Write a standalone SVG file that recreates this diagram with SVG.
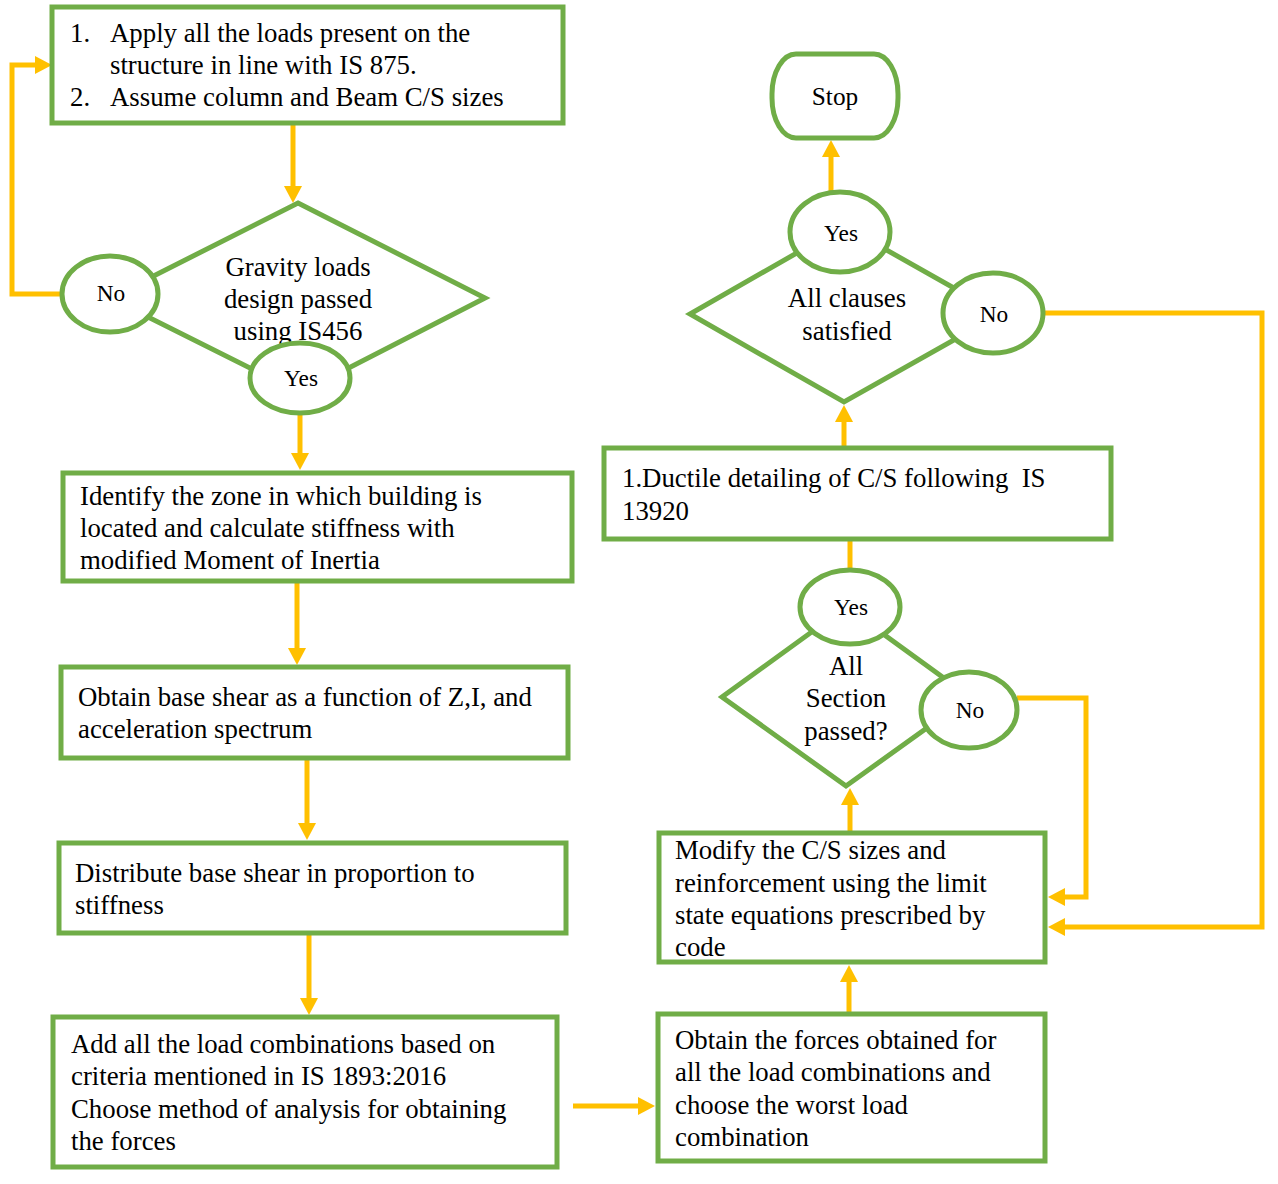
<svg xmlns="http://www.w3.org/2000/svg" width="1278" height="1184" viewBox="0 0 1278 1184">
<style>
.box{fill:#fff;stroke:#70AD47;stroke-width:5}
.c{fill:none;stroke:#FFC000;stroke-width:5}
text{font-family:"Liberation Serif","Times New Roman",serif;font-size:26.8px;fill:#000}
.lbl{font-size:23.3px;text-anchor:middle}
.mid{text-anchor:middle}
</style>
<defs>
<marker id="ah" markerUnits="userSpaceOnUse" markerWidth="18" markerHeight="20" refX="7" refY="10" orient="auto">
<path d="M0,1 L17,10 L0,19 z" fill="#FFC000"/>
</marker>
</defs>
<rect width="1278" height="1184" fill="#fff"/>
<g id="connectors">
<path class="c" d="M293,123 V193" marker-end="url(#ah)"/>
<path class="c" d="M62,294 H12 V65 H42" marker-end="url(#ah)"/>
<path class="c" d="M300,413 V460" marker-end="url(#ah)"/>
<path class="c" d="M297,583 V655" marker-end="url(#ah)"/>
<path class="c" d="M307,760 V830" marker-end="url(#ah)"/>
<path class="c" d="M309,935 V1005" marker-end="url(#ah)"/>
<path class="c" d="M573,1106 H645" marker-end="url(#ah)"/>
<path class="c" d="M849,1012 V975" marker-end="url(#ah)"/>
<path class="c" d="M850,833 V798" marker-end="url(#ah)"/>
<path class="c" d="M850,570 V540"/>
<path class="c" d="M1017,698 H1086 V897 H1058" marker-end="url(#ah)"/>
<path class="c" d="M1043,313 H1262 V927 H1058" marker-end="url(#ah)"/>
<path class="c" d="M844,447 V415" marker-end="url(#ah)"/>
<path class="c" d="M831,192 V150" marker-end="url(#ah)"/>
</g>
<g id="box1">
<rect class="box" x="52" y="7" width="511" height="116"/>
<text x="70" y="42">1.</text><text x="110" y="42">Apply all the loads present on the</text>
<text x="110" y="74">structure in line with IS 875.</text>
<text x="70" y="106">2.</text><text x="110" y="106">Assume column and Beam C/S sizes</text>
</g>
<g id="diamond1">
<polygon class="box" points="298,203 485,298 300,393 110,298"/>
<text class="mid" x="298" y="276">Gravity loads</text>
<text class="mid" x="298" y="308">design passed</text>
<text class="mid" x="298" y="340">using IS456</text>
</g>
<g id="no1"><ellipse class="box" cx="110" cy="294" rx="48" ry="38"/><text class="lbl" x="111" y="301">No</text></g>
<g id="yes1"><ellipse class="box" cx="300" cy="378" rx="50" ry="35"/><text class="lbl" x="301" y="386">Yes</text></g>
<g id="box2">
<rect class="box" x="63" y="473" width="509" height="108"/>
<text x="80" y="505">Identify the zone in which building is</text>
<text x="80" y="537">located and calculate stiffness with</text>
<text x="80" y="569">modified Moment of Inertia</text>
</g>
<g id="box3">
<rect class="box" x="61" y="667" width="507" height="91"/>
<text x="78" y="706">Obtain base shear as a function of Z,I, and</text>
<text x="78" y="738">acceleration spectrum</text>
</g>
<g id="box4">
<rect class="box" x="59" y="843" width="507" height="90"/>
<text x="75" y="882">Distribute base shear in proportion to</text>
<text x="75" y="914">stiffness</text>
</g>
<g id="box5">
<rect class="box" x="53" y="1017" width="504" height="150"/>
<text x="71" y="1053">Add all the load combinations based on</text>
<text x="71" y="1085">criteria mentioned in IS 1893:2016</text>
<text x="71" y="1118">Choose method of analysis for obtaining</text>
<text x="71" y="1150">the forces</text>
</g>
<g id="box6">
<rect class="box" x="658" y="1014" width="387" height="147"/>
<text x="675" y="1049">Obtain the forces obtained for</text>
<text x="675" y="1081">all the load combinations and</text>
<text x="675" y="1114">choose the worst load</text>
<text x="675" y="1146">combination</text>
</g>
<g id="box7">
<rect class="box" x="659" y="833" width="386" height="129"/>
<text x="675" y="859">Modify the C/S sizes and</text>
<text x="675" y="892">reinforcement using the limit</text>
<text x="675" y="924">state equations prescribed by</text>
<text x="675" y="956">code</text>
</g>
<g id="diamond2">
<polygon class="box" points="846,607 970,697 846,786 722,697"/>
<text class="mid" x="846" y="675">All</text>
<text class="mid" x="846" y="707">Section</text>
<text class="mid" x="846" y="740">passed?</text>
</g>
<g id="yes2"><ellipse class="box" cx="850" cy="607" rx="50" ry="37"/><text class="lbl" x="851" y="615">Yes</text></g>
<g id="no2"><ellipse class="box" cx="969" cy="710" rx="48" ry="38"/><text class="lbl" x="970" y="718">No</text></g>
<g id="box8">
<rect class="box" x="604" y="448" width="507" height="91"/>
<text x="622" y="487" xml:space="preserve">1.Ductile detailing of C/S following  IS</text>
<text x="622" y="520">13920</text>
</g>
<g id="diamond3">
<polygon class="box" points="844,226 1000,314 844,402 690,314"/>
<text class="mid" x="847" y="307">All clauses</text>
<text class="mid" x="847" y="340">satisfied</text>
</g>
<g id="yes3"><ellipse class="box" cx="840" cy="232" rx="50" ry="40"/><text class="lbl" x="841" y="241">Yes</text></g>
<g id="no3"><ellipse class="box" cx="993" cy="313" rx="50" ry="40"/><text class="lbl" x="994" y="322">No</text></g>
<g id="stop">
<rect class="box" x="772" y="54" width="126" height="84" rx="24" ry="40"/>
<text class="mid" x="835" y="105" style="font-size:25.3px">Stop</text>
</g>
</svg>
